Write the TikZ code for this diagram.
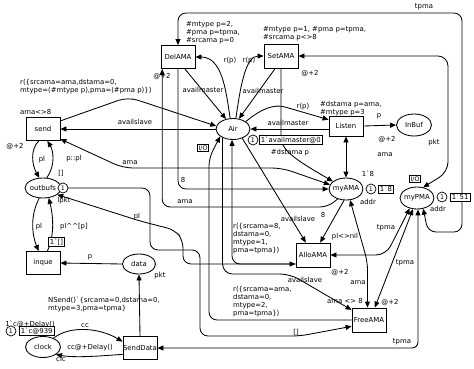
\documentclass[tikz,border=0pt]{standalone}
\usepackage{fontspec}
\setmainfont{DejaVu Sans}
\usetikzlibrary{arrows.meta,shapes.geometric}
\newcommand\bq{\textasciigrave}
\begin{document}
\begin{tikzpicture}[x=1pt,y=-1pt,
  font=\fontsize{6.9}{8}\selectfont,
  every node/.style={inner sep=0pt},
  place/.style={draw, ellipse, minimum width=34pt, minimum height=21pt, inner xsep=-4pt, inner ysep=0pt, line width=0.85pt, fill=white},
  trans/.style={draw, rectangle, minimum width=34pt, minimum height=23pt, line width=0.85pt, fill=white},
  arc/.style={line width=0.85pt, -{Triangle[length=6pt,width=5pt]}},
  biarc/.style={line width=0.85pt, {Triangle[length=6pt,width=5pt]}-{Triangle[length=6pt,width=5pt]}},
  mlab/.style={align=left, anchor=north west},
  token/.style={draw, circle, fill=white, minimum size=10pt, font=\fontsize{6.3}{7}\selectfont, line width=0.7pt},
  mbox/.style={draw, fill=white, inner xsep=1.5pt, inner ysep=1.3pt, line width=0.7pt},
  iotag/.style={draw, inner xsep=1pt, inner ysep=0.8pt, line width=0.6pt, font=\fontsize{6.3}{7}\selectfont},
]
\useasboundingbox (0,0) rectangle (474,368);
\fill[white] (0,0) rectangle (474,368);

% places and transitions
\node[trans] (DelAMA) at (178,57) {DelAMA};
\node[trans, minimum height=24pt] (SetAMA) at (281,56) {SetAMA};
\node[place] (Air) at (233,129) {Air};
\node[trans, minimum height=20pt] (Listen) at (346,126) {Listen};
\node[place, minimum width=35pt, minimum height=22pt] (InBuf) at (414,125) {InBuf};
\node[trans] (send) at (43,129) {send};
\node[place, minimum width=36pt, minimum height=20pt] (outbufs) at (43,188) {outbufs};
\node[trans] (inque) at (43,263) {inque};
\node[place, minimum width=33pt, minimum height=20pt] (data) at (139,264) {data};
\node[place, minimum width=35pt] (clock) at (43,347) {clock};
\node[trans] (SendData) at (140,348) {SendData};
\node[place, minimum height=22pt] (myAMA) at (346,189) {myAMA};
\node[place, minimum height=22pt] (myPMA) at (417,198) {myPMA};
\node[trans, minimum height=24pt] (AlloAMA) at (313,255) {AlloAMA};
\node[trans, minimum height=24pt] (FreeAMA) at (369,320) {FreeAMA};

% arcs
\draw[biarc, rounded corners=8pt] (DelAMA.north) -- (178,13) -- (462,13) -- (462,232) -- (428,232) -- (myPMA.-60);
\draw[biarc, rounded corners=10pt] (SetAMA.east) -- (448,56) -- (448,172) -- (myPMA.60);
\draw[biarc] (Listen.south) -- (myAMA.north);
\draw[arc] (Listen.east) -- (InBuf.west);
\draw[arc] (Air.30) .. controls (262,108) and (275,104) .. (285,107) -- (Listen.160);
\draw[arc] (Listen.west |- Air.east) -- (Air.east);
\draw[arc] (Air.105) .. controls (226,90) and (222,57) .. (DelAMA.east);
\draw[arc] (DelAMA.-60) -- (Air.125);
\draw[arc] (Air.75) .. controls (240,90) and (245,56) .. (SetAMA.west);
\draw[arc] (SetAMA.-115) -- (Air.60);
\draw[arc] (Air.west) -- (send.east |- Air.west);
\draw[arc, rounded corners=10pt] (send.25) -- (128,97) -- (Air.170);
\draw[biarc, rounded corners=10pt] (send.-30) -- (123,168) -- (282,168) -- (myAMA.165);
\draw[arc] (SetAMA.south) -- (281,138) .. controls (281,152) and (305,165) .. (myAMA.150);
\draw[arc, rounded corners=8pt] (DelAMA.south) -- (DelAMA.south |- myAMA.west) -- (myAMA.west);
\draw[arc, rounded corners=8pt] (myAMA.-130) -- (328,207) -- (DelAMA.-143 |- 0,207) -- (DelAMA.-143);
\draw[arc] (Air.-45) -- (AlloAMA.120);
\draw[arc] (myAMA.-100) -- (AlloAMA.60);
\draw[biarc, rounded corners=10pt] (myPMA.-125) -- (386,255) -- (AlloAMA.east);
\draw[biarc, rounded corners=8pt] (myAMA.-70) -- (367.5,262) -- (FreeAMA.97);
\draw[biarc] (myPMA.-110) -- (FreeAMA.65);
\draw[biarc, rounded corners=6pt] (SendData.east) -- (myPMA.-85 |- SendData.east) -- (myPMA.-85);
\draw[arc, rounded corners=8pt] (AlloAMA.west |- 0,264) -- (Air.-95 |- 0,264) -- (Air.-95);
\draw[biarc, rounded corners=8pt] (outbufs.-25) -- (140,221) -- (175,230) -- (183,240) -- (183,264) -- (AlloAMA.west |- 0,264);
\draw[biarc, rounded corners=8pt] (outbufs.east) -- (150,188) -- (150,250) -- (200,250) -- (200,336) -- (300,336) -- (FreeAMA.-160);
\draw[arc, rounded corners=10pt] (Air.-140) -- (Air.-140 |- 0,274) -- (290,274) -- (FreeAMA.150);
\draw[arc, rounded corners=8pt] (FreeAMA.west) -- (209,320) -- (209,158) -- (Air.-150);
\draw[arc] (outbufs.70) .. controls (56,165) and (53,150) .. (send.-70);
\draw[arc] (send.-110) .. controls (30,150) and (32,165) .. (outbufs.110);
\draw[arc] (outbufs.-110) .. controls (30,215) and (32,235) .. (inque.110);
\draw[arc] (inque.70) .. controls (55,235) and (53,215) .. (outbufs.-60);
\draw[arc] (data.west) -- (inque.east);
\draw[arc] (SendData.north) -- (data.south);
\draw[arc] (clock.40) .. controls (70,325) and (100,328) .. (SendData.160);
\draw[arc] (SendData.-160) .. controls (100,356) and (75,358) .. (clock.-30);

% labels
\node (tTop) at (424,7) {tpma};
\node[mlab] (gDel) at (186,21) {\#mtype p=2,\\\#pma p=tpma,\\\#srcama p=0};
\node[mlab] (gSet) at (263,26) {\#mtype p=1, \#pma p=tpma,\\\#srcama p<>8};
\node (rp1) at (230,61) {r(p)};
\node (rp2) at (249,61) {r(p)};
\node (tDel) at (162,77) {@+2};
\node (tSet) at (310,74) {@+2};
\node (am1) at (203,90) {availmaster};
\node (am2) at (263,91) {availmaster};
\node[mlab] (sArc) at (20,79) {r(\{srcama=ama,dstama=0,\\mtype=(\#mtype p),pma=(\#pma p)\})};
\node[anchor=west] (gSend) at (20,112) {ama<>8};
\node (avs) at (135,122) {availslave};
\node (tSend) at (15,147) {@+2};
\node (pl1) at (42,160) {pl};
\node (ppl) at (74,159) {p::pl};
\node (ib) at (61,173) {[]};
\node[iotag] (io1) at (203,148) {I/O};
\node (ama1) at (130,163) {ama};
\node (e8a) at (183,180) {8};
\node (ama2) at (185,202) {ama};
\node (lpkt) at (64,201) {lpkt};
\node (pl2) at (137,217) {pl};
\node (pl3) at (39,227) {pl};
\node (pl4) at (74,227) {pl\textasciicircum\textasciicircum[p]};
\node (pp) at (90,257) {p};
\node (pkt1) at (160,276) {pkt};
\node[mlab] (ns) at (48,297) {NSend()\bq\{srcama=0,dstama=0,\\mtype=3,pma=tpma\}};
\node (cc) at (85,326) {cc};
\node (ccd) at (90,348) {cc@+Delay()};
\node (clc) at (61,359) {clc};
\node (clkinit) at (30,324) {1\bq c@+Delay()};
\node (rp3) at (303,107) {r(p)};
\node[mlab] (gL) at (320,101) {\#dstama p=ama,\\\#mtype p=3};
\node (am3) at (288,123) {availmaster};
\node (p2) at (379,116) {p};
\node (tL) at (387,140) {@+2};
\node (pkt2) at (434,143) {pkt};
\node (ama3) at (385,155) {ama};
\node (dst) at (290,153) {\#dstama p};
\node (i8) at (368,174) {1\bq 8};
\node (addr1) at (368,202) {addr};
\node[iotag] (io2) at (415,179) {I/O};
\node (addr2) at (438,209) {addr};
\node (e8b) at (323,215) {8};
\node (avs2) at (298,219) {availslave};
\node (pnil) at (345,237) {pl<>nil};
\node (tp1) at (386,228) {tpma};
\node[mlab] (rA) at (233,223) {r(\{srcama=8,\\dstama=0,\\mtype=1,\\pma=tpma\})};
\node (tA) at (340,273) {@+2};
\node (avs3) at (305,280) {availslave};
\node (ama4) at (358,283) {ama};
\node (tp2) at (405,263) {tpma};
\node[mlab] (rF) at (233,286) {r(\{srcama=ama,\\dstama=0,\\mtype=2,\\pma=tpma\})};
\node (gF) at (345,301) {ama <> 8};
\node (tF) at (390,303) {@+2};
\node (emp) at (296,332) {[]};
\node (tp3) at (402,342) {tpma};

% markings
\node[token] (k1) at (253,140) {1};
\node[mbox, anchor=west] (m1) at (259,140) {1\bq availmaster@0};
\node[token] (k2) at (63,188) {1};
\node[mbox] (m2) at (56.5,242) {1\bq[]};
\node[token] (k3) at (371,189) {1};
\node[mbox, anchor=west] (m3) at (378,189) {1\bq 8};
\node[token] (k4) at (442,197) {1};
\node[mbox, anchor=west] (m4) at (450,197) {1\bq 51};
\node[token] (k5) at (11,331) {1};
\node[mbox, anchor=west] (m5) at (19,331) {1\bq c@939};
\end{tikzpicture}
\end{document}
